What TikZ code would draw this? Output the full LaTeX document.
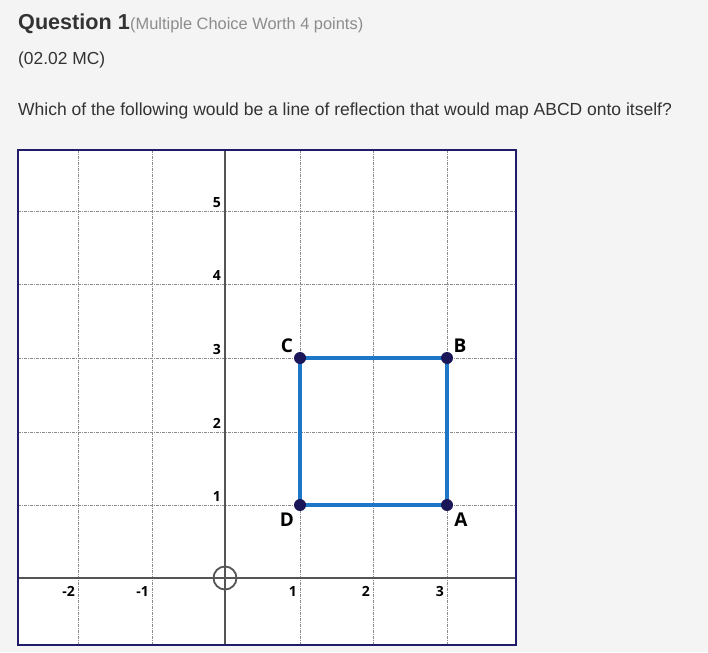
\documentclass[tikz,border=0pt]{standalone}
\usepackage{fontspec}
\setmainfont{Liberation Sans}
\newfontfamily\lblfont{Open Sans}
\definecolor{bgc}{HTML}{F4F4F4}
\definecolor{framec}{HTML}{201C6A}
\definecolor{gridc}{HTML}{8A8A8A}
\definecolor{axisc}{HTML}{555555}
\definecolor{sqc}{HTML}{1E76C6}
\definecolor{dotc}{HTML}{1A1658}
\definecolor{titlec}{HTML}{333333}
\definecolor{subc}{HTML}{8C8C8C}
\tikzset{
  gridline/.style={gridc, line width=1pt, dash pattern=on 3pt off 1pt on 1pt off 1pt},
  axisline/.style={axisc, line width=1.8pt},
  ticklbl/.style={font=\lblfont\bfseries\fontsize{14}{14}\selectfont, text=black, inner sep=0pt},
  ptlbl/.style={font=\lblfont\bfseries\fontsize{19}{19}\selectfont, text=black, inner sep=0pt},
  ptdot/.style={circle, fill=dotc, minimum size=12pt, inner sep=0pt},
  qtext/.style={anchor=base west, inner sep=0pt, text=titlec}
}
\begin{document}
\begin{tikzpicture}[x=1pt,y=-1pt]
\useasboundingbox (0,0) rectangle (708,652);
\fill[bgc] (0,0) rectangle (708,652);
% header text
\node[qtext, font=\bfseries\fontsize{21.6}{21.6}\selectfont] (q) at (18,30) {Question 1};
\node[qtext, anchor=base west, text=subc, font=\fontsize{16.4}{16.4}\selectfont] (pts) at (q.base east) {(Multiple Choice Worth 4 points)};
\node[qtext, font=\fontsize{17.4}{17.4}\selectfont] (mc) at (18,65) {(02.02 MC)};
\node[qtext, font=\fontsize{17.5}{17.5}\selectfont] (ask) at (18,116) {Which of the following would be a line of reflection that would map ABCD onto itself?};
% plot area
\fill[white] (18,150) rectangle (516,645);
\foreach \x in {78,152,300,373,447} \draw[gridline] (\x,150) -- (\x,645);
\foreach \y in {211,284,358,432,505} \draw[gridline] (18,\y) -- (516,\y);
\draw[axisline] (225,150) -- (225,645);
\draw[axisline] (18,578) -- (516,578);
\draw[axisc, line width=1.8pt] (225,578) circle (11.5pt);
\draw[framec, line width=2.6pt] (18,150) rectangle (516,645);
% tick labels
\foreach \y/\t in {211/5,284/4,358/3,432/2,505/1}
  \node[ticklbl, anchor=south east] (yl\t) at (221,\y-3) {\t};
\foreach \x/\t in {78/-2,152/-1,300/1,373/2,447/3}
  \node[ticklbl, anchor=north east] (xl\t) at (\x-3,586) {\t};
% square
\coordinate (A) at (447,505);
\coordinate (B) at (447,358);
\coordinate (C) at (300,358);
\coordinate (D) at (300,505);
\draw[sqc, line width=3.2pt] (A) -- (B) -- (C) -- (D) -- cycle;
\foreach \p in {A,B,C,D} \node[ptdot] (dot\p) at (\p) {};
\node[ptlbl, anchor=south] (lA) at (461,527) {A};
\node[ptlbl, anchor=south] (lB) at (460,353) {B};
\node[ptlbl, anchor=south] (lC) at (287,353) {C};
\node[ptlbl, anchor=south] (lD) at (287,527) {D};
\end{tikzpicture}
\end{document}
